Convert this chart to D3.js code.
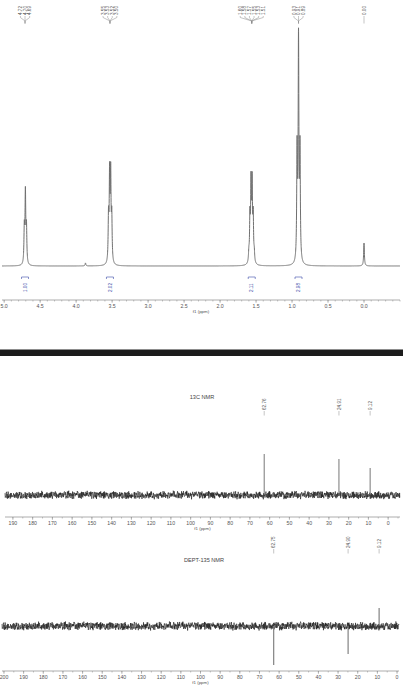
<!DOCTYPE html>
<html><head><meta charset="utf-8">
<script src="https://cdn.jsdelivr.net/npm/d3@7/dist/d3.min.js"></script>
<style>html,body{margin:0;padding:0;background:#fff;}svg{display:block;font-family:"Liberation Sans",Arial,sans-serif;}</style>
</head><body>
<script>
// ---------- 1H NMR data ----------
const hShift = [4.72, 4.705, 4.69, 3.87, 3.55, 3.535, 3.52, 3.505, 1.60, 1.585, 1.57, 1.555, 1.54, 1.525, 0.93, 0.91, 0.89, 0.00];
const hInt   = [35, 70, 35, 3, 44, 85, 85, 44, 9, 44, 76, 76, 44, 9, 110, 220, 110, 23];
const hLabelGroups = [
  {center: 4.71, labels: ["4.72", "4.70", "4.69"]},
  {center: 3.53, labels: ["3.55", "3.53", "3.52", "3.50"]},
  {center: 1.56, labels: ["1.60", "1.58", "1.57", "1.55", "1.53", "1.51"]},
  {center: 0.91, labels: ["0.93", "0.91", "0.89"]},
  {center: 0.00, labels: ["0.00"]}
];
const hIntegralPos = [4.71, 3.53, 1.56, 0.91];
const hIntegralVal = ["1.00", "2.02", "2.11", "2.98"];
const hTicks = [5.0, 4.5, 4.0, 3.5, 3.0, 2.5, 2.0, 1.5, 1.0, 0.5, 0.0];

// ---------- 13C NMR data ----------
const cShift = [62.76, 24.91, 9.12];
const cInt   = [41, 36, 27];
const cLabels = ["62.76", "24.91", "9.12"];
const cTicks = [190,180,170,160,150,140,130,120,110,100,90,80,70,60,50,40,30,20,10,0];

// ---------- DEPT-135 data ----------
const dShift = [62.75, 24.90, 9.12];
const dInt   = [-39, -28, 18];
const dLabels = ["62.75", "24.90", "9.12"];
const dTicks = [200,190,180,170,160,150,140,130,120,110,100,90,80,70,60,50,40,30,20,10,0];

// fixed hand-typed noise texture (baseline appearance)
const noiseTexture = [0.6,-0.8,0.3,-0.2,0.9,-1.0,0.4,0.1,-0.6,0.8,-0.3,0.5,-0.9,0.2,0.7,-0.5,
  -0.1,0.9,-0.7,0.3,-0.4,1.0,-0.8,0.0,0.6,-0.2,-0.9,0.4,0.8,-0.6,0.2,-0.3,
  0.5,-1.0,0.7,-0.1,0.3,-0.7,0.9,-0.4,-0.2,0.6,-0.5,0.1,0.8,-0.9,0.4,-0.6,
  1.0,-0.3,0.2,-0.8,0.5,0.0,-0.4,0.7,-0.7,0.3,0.9,-0.2,-0.6,0.4,-1.0,0.6];

const W = 405, H = 700;
const svg = d3.select("body").append("svg").attr("width", W).attr("height", H);
const gray = "#707070", axisCol = "#8a8a8a", txtCol = "#555";

// ================= 1H panel =================
const xH = d3.scaleLinear().domain([5.03, -0.5]).range([2, 400]);
const yH = d3.scaleLinear().domain([0, 240]).range([266, 26]);
const gam = 0.006;
const hPts = d3.range(5.03, -0.5, -0.0008).map(p => {
  let s = 0;
  for (let i = 0; i < hShift.length; i++) { const d = (p - hShift[i]) / gam; s += hInt[i] / (1 + d * d); }
  return [p, s];
});
svg.append("path").datum(hPts)
  .attr("d", d3.line().x(d => xH(d[0])).y(d => yH(d[1])))
  .attr("fill", "none").attr("stroke", gray).attr("stroke-width", 1);

// peak labels with brackets
const lblSp = 4.6;
hLabelGroups.forEach(g => {
  const cx = xH(g.center), n = g.labels.length;
  g.labels.forEach((t, i) => {
    const lx = cx + (i - (n - 1) / 2) * lblSp;
    svg.append("text").attr("transform", `translate(${lx},15) rotate(-90)`)
      .attr("dy", "0.35em").attr("font-size", 4.6).attr("fill", txtCol).text(t);
    svg.append("path").attr("d", `M${lx},16 L${lx},17.5 L${cx},21 L${cx},23.5`)
      .attr("fill", "none").attr("stroke", axisCol).attr("stroke-width", 0.5);
  });
});

// integrals
const blue = "#3a4aa8";
hIntegralPos.forEach((p, i) => {
  const cx = xH(p);
  svg.append("path").attr("d", `M${cx-3.5},279 L${cx-3.5},277 L${cx+3.5},277 L${cx+3.5},279`)
    .attr("fill", "none").attr("stroke", blue).attr("stroke-width", 0.6);
  svg.append("text").attr("transform", `translate(${cx},292) rotate(-90)`)
    .attr("dy", "0.35em").attr("font-size", 4.6).attr("fill", blue).text(hIntegralVal[i]);
});

// axes
function drawAxis(x, y0, ticks, minorStep, dom, fmt) {
  svg.append("line").attr("x1", x.range()[0]).attr("x2", x.range()[1]).attr("y1", y0).attr("y2", y0)
    .attr("stroke", axisCol).attr("stroke-width", 0.7);
  const minors = d3.range(Math.ceil(dom[1] / minorStep) * minorStep, dom[0] + 1e-9, minorStep);
  svg.selectAll(null).data(minors).enter().append("line")
    .attr("x1", d => x(d)).attr("x2", d => x(d)).attr("y1", y0).attr("y2", y0 + 1.5)
    .attr("stroke", axisCol).attr("stroke-width", 0.5);
  svg.selectAll(null).data(ticks).enter().append("line")
    .attr("x1", d => x(d)).attr("x2", d => x(d)).attr("y1", y0).attr("y2", y0 + 2.8)
    .attr("stroke", axisCol).attr("stroke-width", 0.6);
  svg.selectAll(null).data(ticks).enter().append("text")
    .attr("x", d => x(d)).attr("y", y0 + 8).attr("text-anchor", "middle")
    .attr("font-size", 5.2).attr("fill", txtCol).text(fmt);
  svg.append("text").attr("x", (x.range()[0] + x.range()[1]) / 2).attr("y", y0 + 12.5)
    .attr("text-anchor", "middle").attr("font-size", 4.4).attr("fill", txtCol).text("f1 (ppm)");
}
drawAxis(xH, 300, hTicks, 0.1, [5.03, -0.5], d => d.toFixed(1));

// separator bar
svg.append("rect").attr("x", 0).attr("y", 349.5).attr("width", 403).attr("height", 6.5).attr("fill", "#1c1c1c");

// ================= 13C panel =================
const xC = d3.scaleLinear().domain([194, -6]).range([5, 400]);
const yC = d3.scaleLinear().domain([0, 41]).range([495, 454]);
function noisePath(x, y, amp, step) {
  const dom = x.domain();
  const L = noiseTexture.length;
  const pts = d3.range(dom[0], dom[1], -step).map((p, i) => {
    const k = (i * 37 + Math.floor(i / 5) * 11 + Math.floor(i / 29) * 5) % L;
    const k2 = (i * 13 + 7) % L;
    return [p, (noiseTexture[k] * 0.75 + noiseTexture[k2] * 0.35) * amp];
  });
  return d3.line().x(d => x(d[0])).y(d => y(d[1]))(pts);
}
svg.append("path").attr("d", noisePath(xC, yC, 3.9, 0.12))
  .attr("fill", "none").attr("stroke", "#1a1a1a").attr("stroke-width", 0.6);
svg.selectAll(null).data(cShift).enter().append("line")
  .attr("x1", d => xC(d)).attr("x2", d => xC(d)).attr("y1", yC(0)).attr("y2", (d, i) => yC(cInt[i]))
  .attr("stroke", "#777").attr("stroke-width", 1);
svg.append("text").attr("x", 202).attr("y", 399).attr("text-anchor", "middle")
  .attr("font-size", 5.6).attr("fill", "#444").text("13C NMR");
cShift.forEach((p, i) => {
  const cx = xC(p);
  svg.append("text").attr("transform", `translate(${cx},410) rotate(-90)`)
    .attr("dy", "0.35em").attr("font-size", 4.6).attr("fill", txtCol).text(cLabels[i]);
  svg.append("line").attr("x1", cx).attr("x2", cx).attr("y1", 411).attr("y2", 415.5)
    .attr("stroke", axisCol).attr("stroke-width", 0.5);
});
drawAxis(xC, 517, cTicks, 5, [194, -6], d => d);

// ================= DEPT-135 panel =================
const xD = d3.scaleLinear().domain([201, -1]).range([2, 399]);
const yD = d3.scaleLinear().domain([0, 18]).range([626, 608]);
svg.append("path").attr("d", noisePath(xD, yD, 4.1, 0.12))
  .attr("fill", "none").attr("stroke", "#1a1a1a").attr("stroke-width", 0.6);
svg.selectAll(null).data(dShift).enter().append("line")
  .attr("x1", d => xD(d)).attr("x2", d => xD(d)).attr("y1", yD(0)).attr("y2", (d, i) => yD(dInt[i]))
  .attr("stroke", "#777").attr("stroke-width", 1.1);
svg.append("text").attr("x", 204).attr("y", 562).attr("text-anchor", "middle")
  .attr("font-size", 5.6).attr("fill", "#444").text("DEPT-135 NMR");
dShift.forEach((p, i) => {
  const cx = xD(p);
  svg.append("text").attr("transform", `translate(${cx},548) rotate(-90)`)
    .attr("dy", "0.35em").attr("font-size", 4.6).attr("fill", txtCol).text(dLabels[i]);
  svg.append("line").attr("x1", cx).attr("x2", cx).attr("y1", 549).attr("y2", 553.5)
    .attr("stroke", axisCol).attr("stroke-width", 0.5);
});
drawAxis(xD, 671, dTicks, 5, [201, -1], d => d);
</script>
</body></html>
